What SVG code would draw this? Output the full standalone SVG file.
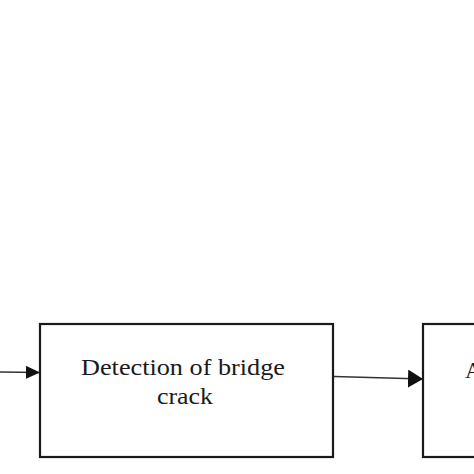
<svg xmlns="http://www.w3.org/2000/svg" width="474" height="474" viewBox="0 0 474 474">
<defs>
<style>
.box{fill:#fff;stroke:#1a1a1a;stroke-width:2.2}
.lbl{font-family:"Liberation Serif","Times New Roman",serif;font-size:23px;fill:#1a1a1a;text-anchor:middle}
.con{stroke:#333;stroke-width:1.3;fill:none}
</style>
<marker id="ah" markerWidth="15" markerHeight="18" refX="15" refY="9" orient="auto" markerUnits="userSpaceOnUse">
<path d="M0,0 L15,9 L0,18 Z" fill="#111"/>
</marker>
<marker id="ah1" markerWidth="14" markerHeight="13" refX="14" refY="6.5" orient="auto" markerUnits="userSpaceOnUse">
<path d="M0,0 L14,6.5 L0,13 Z" fill="#111"/>
</marker>
</defs>
<rect width="474" height="474" fill="#fff"/>
<g id="connectors">
<line class="con" x1="0" y1="372" x2="40" y2="372.5" marker-end="url(#ah1)"/>
<line class="con" x1="334" y1="376.5" x2="423" y2="379" marker-end="url(#ah)"/>
</g>
<g id="node-detection">
<rect class="box" x="40" y="324" width="293" height="133"/>
<text class="lbl" x="183" y="375" textLength="204" lengthAdjust="spacingAndGlyphs">Detection of bridge</text>
<text class="lbl" x="185" y="404" textLength="56" lengthAdjust="spacingAndGlyphs">crack</text>
</g>
<g id="node-next">
<rect class="box" x="423" y="324" width="60" height="133"/>
<text class="lbl" x="465" y="378" style="text-anchor:start">A</text>
</g>
</svg>
